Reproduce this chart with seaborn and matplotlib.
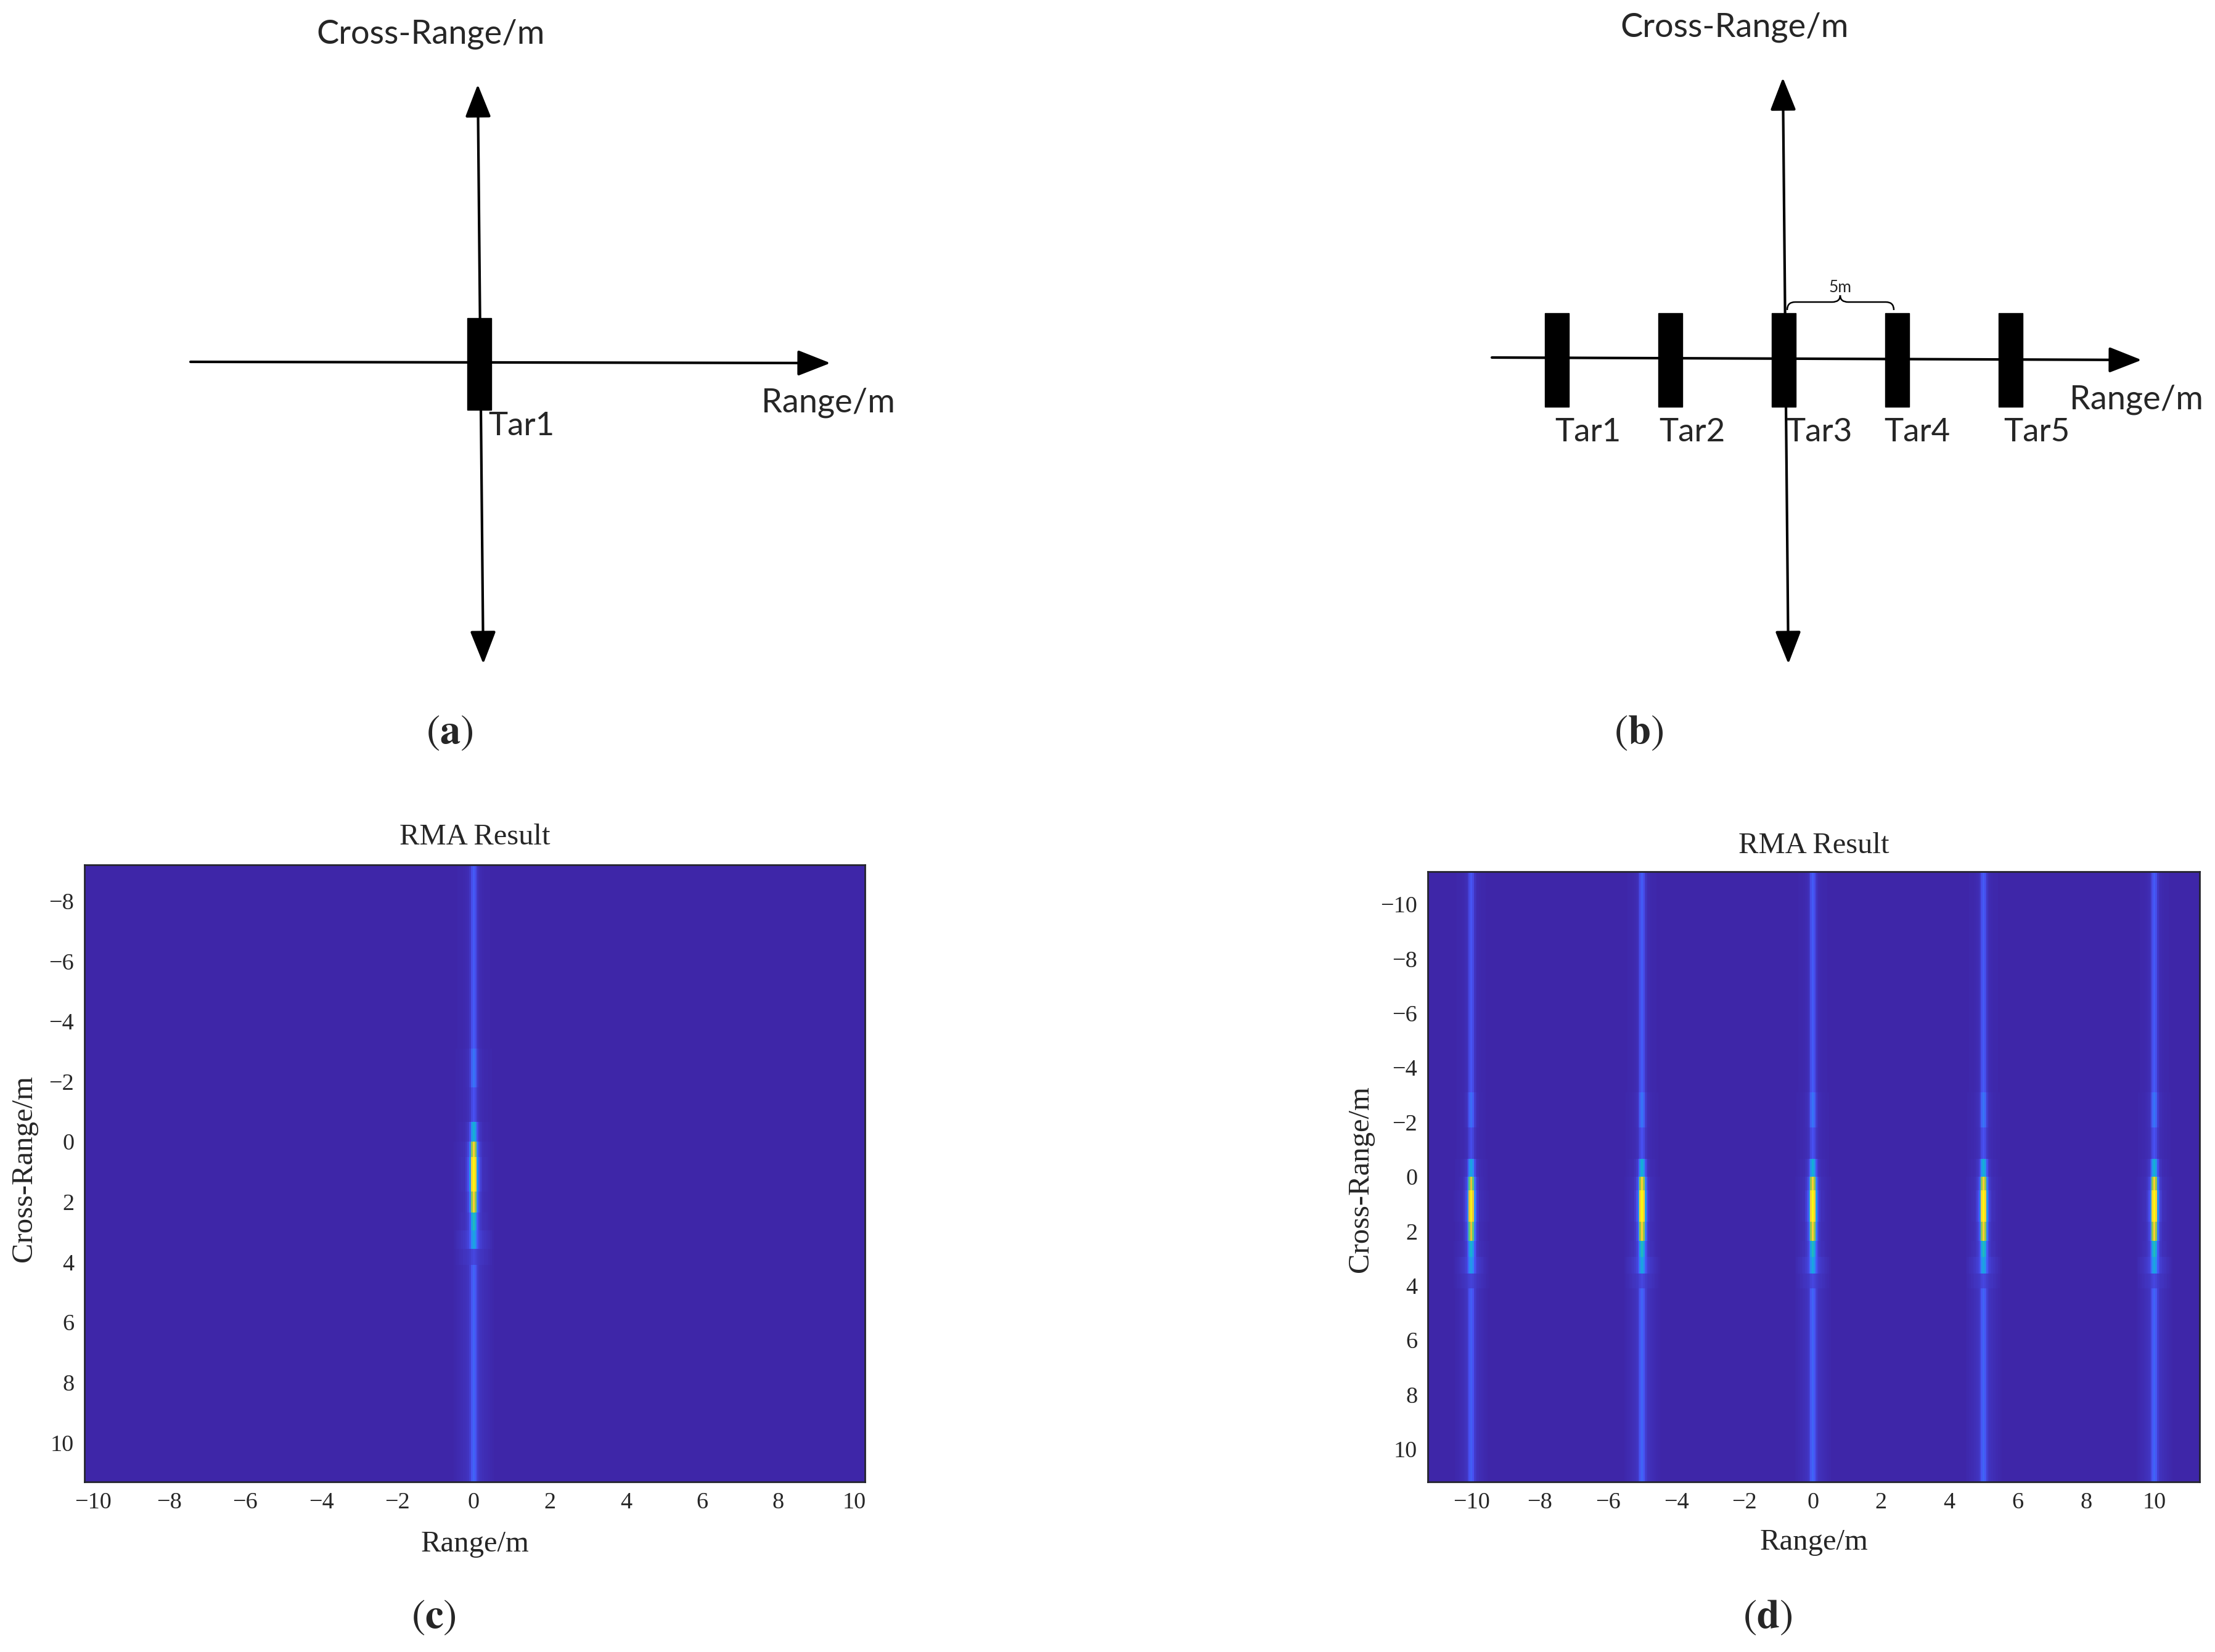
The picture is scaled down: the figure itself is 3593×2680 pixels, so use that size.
import numpy as np
import matplotlib
matplotlib.use("Agg")
import matplotlib.pyplot as plt
import seaborn as sns
from matplotlib.colors import LinearSegmentedColormap
from matplotlib.patches import Rectangle, PathPatch
from matplotlib.path import Path

# ---------------- data ----------------
targets_c = [0.0]
amps_c = [1.0]
targets_d = [-10.0, -5.0, 0.0, 5.0, 10.0]
amps_d = [0.9, 1.0, 1.0, 1.0, 1.0]

# cross-range segments (m) and response magnitude of each target in them
seg_edges = [-12.0, -3.1, -1.8, -0.65, 0.0, 0.5, 1.65, 2.35, 2.95, 3.55, 4.1, 12.0]
core_mag = [0.13, 0.19, 0.10, 0.35, 0.75, 1.0, 0.75, 0.38, 0.26, 0.03, 0.13]
halo_mag = [0.015, 0.02, 0.02, 0.03, 0.04, 0.05, 0.04, 0.05, 0.08, 0.06, 0.04]
# range response on 0.05 m bins: main lobe and wide halo
core_kernel = [0.03, 0.08, 0.25, 0.75, 1.0, 0.75, 0.25, 0.08, 0.03]
halo_kernel = [0.1, 0.2, 0.3, 0.4, 0.5, 0.6, 0.7, 0.8, 0.9, 0.95, 1.0,
               0.95, 0.9, 0.8, 0.7, 0.6, 0.5, 0.4, 0.3, 0.2, 0.1]
background = 0.0

xticks_c = [-10, -8, -6, -4, -2, 0, 2, 4, 6, 8, 10]
yticks_c = [-8, -6, -4, -2, 0, 2, 4, 6, 8, 10]
xticks_d = [-10, -8, -6, -4, -2, 0, 2, 4, 6, 8, 10]
yticks_d = [-10, -8, -6, -4, -2, 0, 2, 4, 6, 8, 10]

diagram_targets_a = [0.0]
labels_a = ["Tar1"]
diagram_targets_b = [-10.0, -5.0, 0.0, 5.0, 10.0]
labels_b = ["Tar1", "Tar2", "Tar3", "Tar4", "Tar5"]

# ---------------- style ----------------
sns.set_style("white")
plt.rcParams["mathtext.fontset"] = "stix"
plt.rcParams["font.family"] = ["Liberation Serif", "DejaVu Serif"]

W, H, DPI = 3593, 2680, 100
fig = plt.figure(figsize=(W / DPI, H / DPI), dpi=DPI)
fig.patch.set_facecolor("white")

parula = LinearSegmentedColormap.from_list("parula", [
    (0.000, (0.2422, 0.1504, 0.6603)),
    (0.125, (0.2810, 0.3228, 0.9579)),
    (0.250, (0.1786, 0.5289, 0.9682)),
    (0.375, (0.0689, 0.6948, 0.8394)),
    (0.500, (0.2161, 0.7843, 0.5923)),
    (0.625, (0.6720, 0.7793, 0.2227)),
    (0.750, (0.9970, 0.7659, 0.2199)),
    (0.875, (0.9598, 0.9082, 0.1297)),
    (1.000, (0.9763, 0.9831, 0.0538)),
])

DX = 0.05


def build_image(x0, nx, y0, ny, targets, amps):
    yc = y0 + (np.arange(ny) + 0.5) * DX
    idx = np.searchsorted(seg_edges, yc, side="right") - 1
    core_col = np.asarray(core_mag)[idx]
    halo_col = np.asarray(halo_mag)[idx]
    Z = np.full((ny, nx), background, dtype=float)
    ck = np.asarray(core_kernel)
    hk = np.asarray(halo_kernel)
    for t, a in zip(targets, amps):
        ic = int(round((t - x0) / DX - 0.5))
        for k, w in enumerate(ck):
            j = ic + k - len(ck) // 2
            if 0 <= j < nx:
                Z[:, j] += a * w * core_col
        for k, w in enumerate(hk):
            j = ic + k - len(hk) // 2
            if 0 <= j < nx:
                Z[:, j] += a * w * halo_col
    return np.clip(Z, 0, 1)


def fmt(v):
    return str(v).replace("-", "\u2212")


def heat_panel(rect_px, x0, nx, y0, ny, targets, amps, xt, yt, title_y, xl_y, yl_x, yl_y):
    l, t, r, b = rect_px
    ax = fig.add_axes([l / W, (H - b) / H, (r - l) / W, (b - t) / H])
    Z = build_image(x0, nx, y0, ny, targets, amps)
    sns.heatmap(Z, ax=ax, cmap=parula, vmin=0, vmax=1, cbar=False,
                xticklabels=False, yticklabels=False, rasterized=True)
    ax.set_xlim(0, nx)
    ax.set_ylim(ny, 0)
    ax.set_xticks([(v - x0) / DX for v in xt])
    ax.set_xticklabels([fmt(v) for v in xt], rotation=0)
    ax.set_yticks([(v - y0) / DX for v in yt])
    ax.set_yticklabels([fmt(v) for v in yt], rotation=0)
    for s in ax.spines.values():
        s.set_visible(True)
        s.set_linewidth(2.0)
        s.set_color("#25252e")
    ax.tick_params(direction="in", length=9, width=1.6, color="#2a2a40",
                   top=True, right=True, labelsize=27.5, pad=12)
    ax.set_title("RMA Result", fontsize=35, y=title_y, va="center")
    ax.set_xlabel("Range/m", fontsize=35, va="center")
    ax.xaxis.set_label_coords(0.5, xl_y)
    ax.set_ylabel("Cross-Range/m", fontsize=35, va="center")
    ax.yaxis.set_label_coords(yl_x, yl_y)
    return ax


# panel (c)
heat_panel((137, 1403, 1403, 2404), -10.225, 410, -9.2, 410, targets_c, amps_c,
           xticks_c, yticks_c, 1.037, -0.101, -0.0774, 0.508)
# panel (d)
heat_panel((2316, 1414, 3568, 2404), -11.275, 452, -11.2, 448, targets_d, amps_d,
           xticks_d, yticks_d, 1.034, -0.099, -0.087, 0.496)

# ---------------- schematic diagrams (a) and (b) ----------------
ax0 = fig.add_axes([0, 0, 1, 1], zorder=-1)
ax0.set_xlim(0, W)
ax0.set_ylim(H, 0)
ax0.axis("off")

sans = ["Lato", "DejaVu Sans"]
LW = 3.0
head = dict(mutation_scale=10, lw=LW, color="black", shrinkA=0, shrinkB=0)


def double_arrow(p1, p2):
    ax0.annotate("", xy=p2, xytext=p1,
                 arrowprops=dict(arrowstyle="<|-|>,head_length=3.3,head_width=1.3", **head))


def single_arrow(p1, p2):
    ax0.annotate("", xy=p2, xytext=p1,
                 arrowprops=dict(arrowstyle="-|>,head_length=3.3,head_width=1.3", **head))


# (a)
double_arrow((775, 137), (784, 1077))
single_arrow((309, 587), (1347, 589))
xa0, sa = 777, 36.8
for r_, lab in zip(diagram_targets_a, labels_a):
    cx = xa0 + sa * r_
    ax0.add_patch(Rectangle((cx - 19.5, 516), 39, 149, color="black", zorder=3))
    ax0.text(cx + 69, 692, lab, family=sans, fontsize=38, ha="center", va="center")
ax0.text(699, 55, "Cross-Range/m", family=sans, fontsize=39, ha="center", va="center")
ax0.text(1343, 653, "Range/m", family=sans, fontsize=39, ha="center", va="center")

# (b)
double_arrow((2892, 126), (2901, 1077))
single_arrow((2420, 580), (3474, 584))
xb0 = 2893
label_dx = [51, 36, 58, 33, 43]
for r_, lab, ddx in zip(diagram_targets_b, labels_b, label_dx):
    cx = xb0 + sa * r_
    ax0.add_patch(Rectangle((cx - 19.5, 508), 39, 152, color="black", zorder=3))
    ax0.text(cx + ddx, 701, lab, family=sans, fontsize=38, ha="center", va="center")
ax0.text(2814, 44, "Cross-Range/m", family=sans, fontsize=39, ha="center", va="center")
ax0.text(3465, 648, "Range/m", family=sans, fontsize=39, ha="center", va="center")

# brace with "5m"
verts = [(2899, 503), (2899, 490), (2912, 490), (2972, 490),
         (2985, 490), (2985, 479), (2985, 490), (2998, 490),
         (3059, 490), (3072, 490), (3072, 503)]
codes = [Path.MOVETO, Path.CURVE3, Path.CURVE3, Path.LINETO,
         Path.CURVE3, Path.CURVE3, Path.CURVE3, Path.CURVE3,
         Path.LINETO, Path.CURVE3, Path.CURVE3]
ax0.add_patch(PathPatch(Path(verts, codes), fill=False, lw=1.8, color="black"))
ax0.text(2985, 467, "5m", family=sans, fontsize=19, ha="center", va="center")

# panel letters
for (px, py), letter in zip([(729, 1189), (2658, 1189), (703, 2624), (2867, 2624)],
                            ["a", "b", "c", "d"]):
    ax0.text(px, py, r"$(\mathbf{%s})$" % letter, fontsize=48, ha="center", va="center")

fig.savefig("out.png", dpi=DPI, facecolor="white")
